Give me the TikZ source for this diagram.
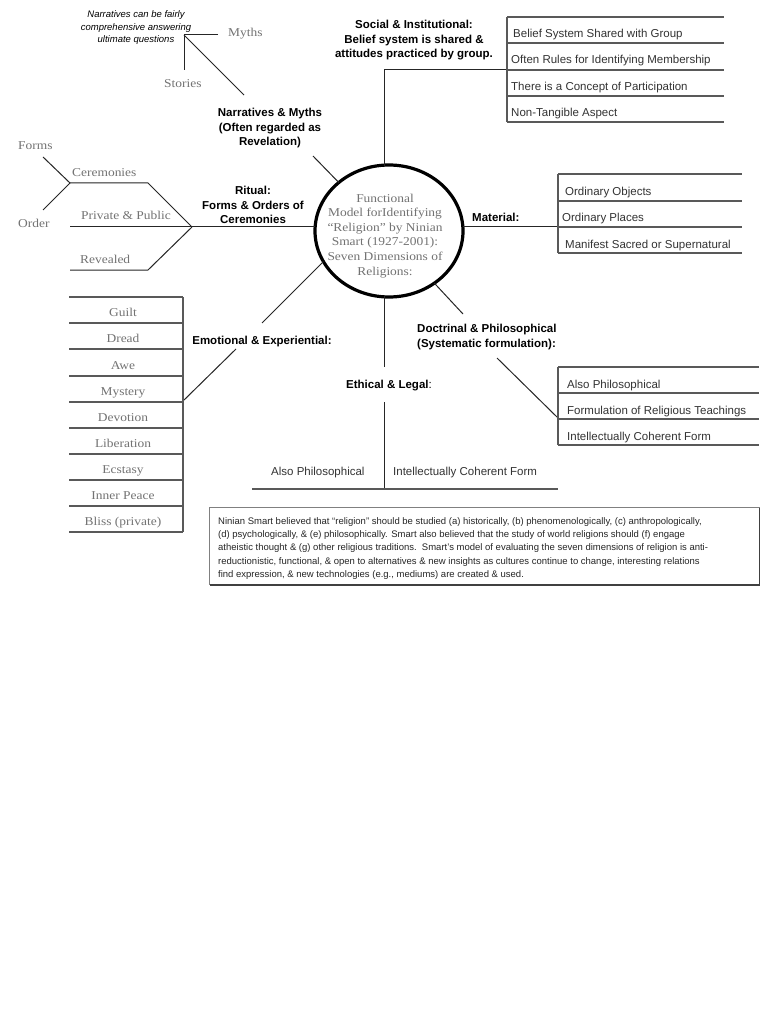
\documentclass[tikz,border=0pt]{standalone}
\usepackage{fontspec}
\setmainfont{Liberation Sans}
\newfontfamily\serifw[FakeStretch=1.12]{Liberation Serif}
\usetikzlibrary{shapes.geometric}
\begin{document}
\begin{tikzpicture}[x=1pt,y=-1pt,
  conn/.style={draw=black!85, line width=1pt},
  tab/.style={draw=black!65, line width=1.4pt},
  lbl/.style={font=\fontsize{11.5}{14.6}\selectfont\bfseries, align=center, inner sep=0, anchor=base},
  cell/.style={font=\fontsize{11.5}{14}\selectfont, text=black!80, anchor=base west, inner sep=0},
  scell/.style={font=\serifw\fontsize{12}{14}\selectfont, text=black!55, anchor=base, inner sep=0},
  swest/.style={scell, anchor=base west},
]
\useasboundingbox[fill=white] (0,0) rectangle (768,1024);

% ---------- central ellipse ----------
\node[ellipse, draw=black, line width=3.2pt, minimum width=148pt, minimum height=132pt, inner sep=0, outer sep=0] (c) at (389,231) {};
\node[font=\serifw\fontsize{12}{14.6}\selectfont, text=black!55, align=center, inner sep=0, anchor=base] (ct) at (385,275)
  {Functional\\Model forIdentifying\\“Religion” by Ninian\\Smart (1927-2001):\\Seven Dimensions of\\Religions:};

% ---------- Narratives & Myths ----------
\node[font=\itshape\fontsize{9.5}{12.5}\selectfont, align=center, inner sep=0, anchor=base] (note) at (136,43)
  {Narratives can be fairly\\comprehensive answering\\ultimate questions};
\coordinate (nj) at (184,35);
\coordinate (nMy) at (218,35);
\coordinate (nSt) at (184,70);
\coordinate (nDn) at (244,95);
\node[swest] (myths) at (228,37) {Myths};
\node[swest] (stories) at (164,88) {Stories};
\draw[conn] (nMy) -- (nj) -- (nSt);
\draw[conn] (nj) -- (nDn);
\node[lbl] (narr) at (270,146) {Narratives \& Myths\\(Often regarded as\\Revelation)};
\coordinate (n1) at (313,156);
\draw[conn] (n1) -- (c.136);

% ---------- Social & Institutional ----------
\node[lbl] (soc) at (414,58) {Social \& Institutional:\\Belief system is shared \&\\attitudes practiced by group.};
\coordinate (sj) at (384,70);
\coordinate (st) at (507,70);
\draw[conn] (384,166) -- (sj) -- (st);
\draw[tab] (507,17) -- (724,17) (507,43) -- (724,43) (507,70) -- (724,70) (507,96) -- (724,96) (507,122) -- (724,122);
\draw[tab] (507,17) -- (507,122);
\node[cell] (s1) at (513,38) {Belief System Shared with Group};
\node[cell] (s2) at (511,64) {Often Rules for Identifying Membership};
\node[cell] (s3) at (511,91) {There is a Concept of Participation};
\node[cell] (s4) at (511,117) {Non-Tangible Aspect};

% ---------- Ritual ----------
\node[lbl] (rit) at (253,224) {Ritual:\\Forms \& Orders of\\Ceremonies};
\coordinate (rj) at (192,227);
\coordinate (ru) at (148,183);
\coordinate (rl) at (148,270);
\coordinate (rf) at (70,183);
\coordinate (rm) at (70,227);
\coordinate (rb) at (70,270);
\coordinate (fo) at (43,157);
\coordinate (or) at (43,210);
\draw[conn] (rj) -- (rj -| c.west);
\draw[conn] (rj) -- (ru) -- (rf);
\draw[conn] (rj) -- (rm);
\draw[conn] (rj) -- (rl) -- (rb);
\draw[conn] (fo) -- (rf) -- (or);
\node[swest] (cer) at (72,177) {Ceremonies};
\node[swest] (pp) at (81,220) {Private \& Public};
\node[swest] (rev) at (80,263) {Revealed};
\node[swest] (forms) at (18,150) {Forms};
\node[swest] (order) at (18,228) {Order};

% ---------- Material ----------
\node[lbl, anchor=base west] (mat) at (472,222) {Material:};
\coordinate (mj) at (558,227);
\draw[conn] (mj -| c.east) -- (mj);
\draw[tab] (558,174) -- (742,174) (558,201) -- (742,201) (558,227) -- (742,227) (558,253) -- (742,253);
\draw[tab] (558,174) -- (558,253);
\node[cell] (m1) at (565,196) {Ordinary Objects};
\node[cell] (m2) at (562,222) {Ordinary Places};
\node[cell] (m3) at (565,248) {Manifest Sacred or Supernatural};

% ---------- Emotional & Experiential ----------
\node[lbl] (emo) at (262,344) {Emotional \& Experiential:};
\coordinate (e1) at (262,323);
\coordinate (e2) at (236,349);
\coordinate (e3) at (183,401);
\draw[conn] (c.205) -- (e1);
\draw[conn] (e2) -- (e3);
\foreach \yy in {297,323,349,376,402,428,454,480,506,532} \draw[tab] (69,\yy) -- (183,\yy);
\draw[tab] (183,297) -- (183,532);
\node[scell] (g1) at (123,316) {Guilt};
\node[scell] (g2) at (123,342.5) {Dread};
\node[scell] (g3) at (123,369) {Awe};
\node[scell] (g4) at (123,395) {Mystery};
\node[scell] (g5) at (123,421) {Devotion};
\node[scell] (g6) at (123,447.5) {Liberation};
\node[scell] (g7) at (123,473.5) {Ecstasy};
\node[scell] (g8) at (123,499.5) {Inner Peace};
\node[scell] (g9) at (123,525.5) {Bliss (private)};

% ---------- Doctrinal & Philosophical ----------
\node[lbl, align=left, anchor=base west] (doc) at (417,347) {Doctrinal \& Philosophical\\(Systematic formulation):};
\coordinate (d1) at (463,314);
\coordinate (d2) at (497,358);
\coordinate (d3) at (558,418);
\draw[conn] (c.311) -- (d1);
\draw[conn] (d2) -- (d3);
\draw[tab] (558,367) -- (759,367) (558,393) -- (759,393) (558,419) -- (759,419) (558,445) -- (759,445);
\draw[tab] (558,367) -- (558,445);
\node[cell] (p1) at (567,388) {Also Philosophical};
\node[cell] (p2) at (567,414) {Formulation of Religious Teachings};
\node[cell] (p3) at (567,440) {Intellectually Coherent Form};

% ---------- Ethical & Legal ----------
\node[font=\fontsize{11.5}{14.6}\selectfont, inner sep=0, anchor=base east] (eth) at (432,388) {\bfseries Ethical \& Legal\mdseries:};
\coordinate (t1) at (384,367);
\coordinate (t2) at (384,402);
\coordinate (t3) at (384,489);
\coordinate (tl) at (252,489);
\coordinate (tr) at (558,489);
\draw[conn] (384,296) -- (t1);
\draw[conn] (t2) -- (t3);
\draw[tab] (tl) -- (tr);
\node[cell] (e4) at (271,475) {Also Philosophical};
\node[cell] (e5) at (393,475) {Intellectually Coherent Form};

% ---------- note box ----------
\draw[draw=black!50, line width=0.8pt] (209,507) rectangle (759,584);
\draw[draw=black!75, line width=1.4pt] (759.5,508) -- (759.5,585) -- (210,585);
\node[font=\fontsize{9.5}{13.4}\selectfont, text=black!85, align=left, inner sep=0, anchor=base west] (txt) at (218,577.6)
  {Ninian Smart believed that “religion” should be studied (a) historically, (b) phenomenologically, (c) anthropologically,\\
   (d) psychologically, \& (e) philosophically. Smart also believed that the study of world religions should (f) engage\\
   atheistic thought \& (g) other religious traditions.\ \ Smart’s model of evaluating the seven dimensions of religion is anti-\\
   reductionistic, functional, \& open to alternatives \& new insights as cultures continue to change, interesting relations\\
   find expression, \& new technologies (e.g., mediums) are created \& used.};
\end{tikzpicture}
\end{document}
